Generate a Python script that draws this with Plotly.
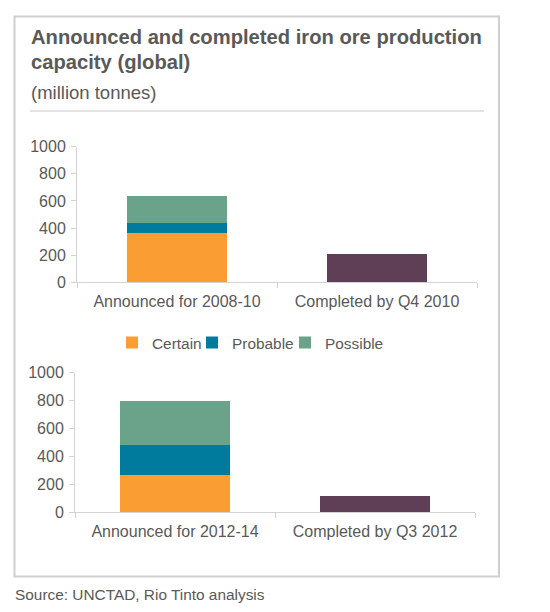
import plotly.graph_objects as go

# ---- data ----
top_categories = ["Announced for 2008-10", "Completed by Q4 2010"]
bottom_categories = ["Announced for 2012-14", "Completed by Q3 2012"]
series_names = ["Certain", "Probable", "Possible"]
top_announced = [361, 79, 194]      # Certain, Probable, Possible
top_completed = 209
bottom_announced = [269, 215, 315]  # Certain, Probable, Possible
bottom_completed = 117
y_ticks = [0, 200, 400, 600, 800, 1000]

colors = ["#FA9D32", "#007B9E", "#6AA38A"]
completed_color = "#5E3F55"
text_color = "#595959"
axis_color = "#D3D3D3"
FONT = "Liberation Sans, Arial, sans-serif"
legend_widths = [35, 48, 58]   # tighter legend entry widths (px)

W, H = 550, 612
def px(x): return x / W
def py(y): return 1 - y / H

fig = go.Figure()

for i, name in enumerate(series_names):
    fig.add_trace(go.Bar(
        x=[top_categories[0]], y=[top_announced[i]], name=name,
        marker=dict(color=colors[i], line=dict(width=0)),
        width=0.5, xaxis="x", yaxis="y", legendgroup=name, showlegend=True,
        legendwidth=legend_widths[i]))
fig.add_trace(go.Bar(
    x=[top_categories[1]], y=[top_completed], name="Completed",
    marker=dict(color=completed_color, line=dict(width=0)),
    width=0.5, xaxis="x", yaxis="y", showlegend=False))

for i, name in enumerate(series_names):
    fig.add_trace(go.Bar(
        x=[bottom_categories[0]], y=[bottom_announced[i]], name=name,
        marker=dict(color=colors[i], line=dict(width=0)),
        width=0.55, xaxis="x2", yaxis="y2", legendgroup=name, showlegend=False))
fig.add_trace(go.Bar(
    x=[bottom_categories[1]], y=[bottom_completed], name="Completed",
    marker=dict(color=completed_color, line=dict(width=0)),
    width=0.55, xaxis="x2", yaxis="y2", showlegend=False))

xaxis_common = dict(showline=True, linecolor=axis_color, linewidth=1,
                    ticks="outside", tickson="boundaries", ticklen=5,
                    tickcolor=axis_color, showgrid=False, zeroline=False,
                    automargin=False, ticklabelstandoff=4,
                    tickfont=dict(size=16, color=text_color, family=FONT))
yaxis_common = dict(range=[0, 1000], tickvals=y_ticks, showline=True,
                    linecolor=axis_color, linewidth=1, ticks="outside",
                    ticklen=5, tickcolor=axis_color, showgrid=False,
                    zeroline=False, automargin=False, ticklabelstandoff=2,
                    tickfont=dict(size=16, color=text_color, family=FONT))

fig.update_layout(
    template="none",
    width=W, height=H,
    margin=dict(l=0, r=0, t=0, b=0, pad=0, autoexpand=False),
    paper_bgcolor="white", plot_bgcolor="white",
    barmode="stack",
    font=dict(family=FONT, color=text_color, size=15),
    xaxis=dict(domain=[px(77), px(477)], anchor="y",
               categoryorder="array", categoryarray=top_categories, **xaxis_common),
    yaxis=dict(domain=[py(282.3), py(146.7)], anchor="x", **yaxis_common),
    xaxis2=dict(domain=[px(75), px(475)], anchor="y2",
                categoryorder="array", categoryarray=bottom_categories, **xaxis_common),
    yaxis2=dict(domain=[py(512.3), py(372.7)], anchor="x2", **yaxis_common),
    legend=dict(orientation="h", x=px(112), xanchor="left", y=py(343),
                yanchor="middle", font=dict(size=15.4, color=text_color, family=FONT),
                itemwidth=30, tracegroupgap=0, bgcolor="rgba(0,0,0,0)"),
    showlegend=True,
)

shapes = [
    dict(type="rect", xref="paper", yref="paper",
         x0=px(14.5), x1=px(499), y0=py(576.5), y1=py(16.5),
         line=dict(color="#CFCFCF", width=2), fillcolor="rgba(0,0,0,0)", layer="below"),
    dict(type="line", xref="paper", yref="paper",
         x0=px(30), x1=px(484), y0=py(111), y1=py(111),
         line=dict(color="#C8C8C8", width=1)),
]
fig.update_layout(shapes=shapes)

annotations = [
    dict(text="<b>Announced and completed iron ore production</b>",
         x=px(28.5), y=py(37), xref="paper", yref="paper", xanchor="left", yanchor="middle",
         showarrow=False, font=dict(size=20.2, color=text_color, family=FONT)),
    dict(text="<b>capacity (global)</b>",
         x=px(28.5), y=py(62), xref="paper", yref="paper", xanchor="left", yanchor="middle",
         showarrow=False, font=dict(size=20.2, color=text_color, family=FONT)),
    dict(text="(million tonnes)",
         x=px(28.5), y=py(92), xref="paper", yref="paper", xanchor="left", yanchor="middle",
         showarrow=False, font=dict(size=18.5, color=text_color, family=FONT)),
    dict(text="Source: UNCTAD, Rio Tinto analysis",
         x=px(13), y=py(594), xref="paper", yref="paper", xanchor="left", yanchor="middle",
         showarrow=False, font=dict(size=15.4, color=text_color, family=FONT)),
]
fig.update_layout(annotations=annotations)

fig.write_html("out.html", config={"displayModeBar": False},
               post_script="document.body.style.margin='0';")
